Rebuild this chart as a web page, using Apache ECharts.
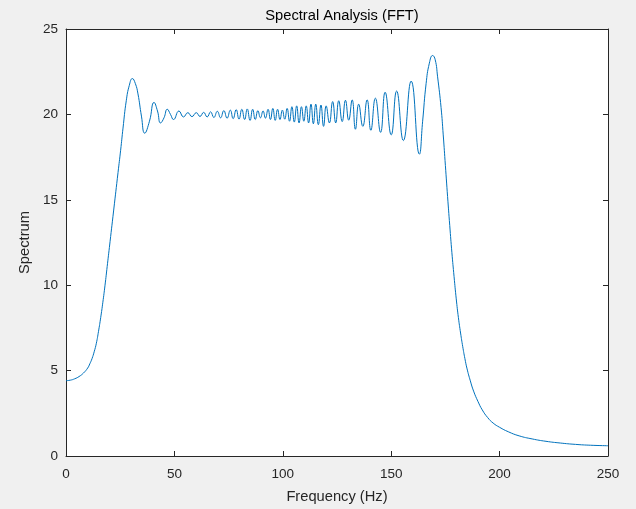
<!DOCTYPE html>
<html>
<head>
<meta charset="utf-8">
<script src="https://cdn.jsdelivr.net/npm/echarts@6/dist/echarts.min.js"></script>
<style>
  html, body { margin: 0; padding: 0; background: #f0f0f0; }
  #main { width: 636px; height: 509px; }
</style>
</head>
<body>
<div id="main"></div>
<script>
// values (frequency in Hz, spectrum magnitude)
const freqs = [
  0, 2, 4, 6, 8, 10, 11, 12, 13, 14, 15, 16, 17, 18, 19, 20, 22, 24, 25.2, 26.3, 27.8, 29.2,
  30.6, 32, 33.2, 34.8, 36.3, 38.5, 40.6, 42.2, 43.6, 45.2, 46.7, 48.2, 49.6,
  52.1, 54.2, 56.2, 58.1, 60.1, 61.8, 63.5, 65.1, 66.7, 68.2, 69.8, 71.3,
  72.8, 74.3, 75.8, 77.1, 78.5, 79.8, 81.1, 82.4, 83.6, 84.9, 86.1, 87.3,
  88.5, 89.7, 90.9, 92.0, 93.2, 94.3, 95.4, 96.5, 97.6, 98.7, 99.8, 100.9,
  102.0, 103.1, 104.2, 105.3, 106.4, 107.5, 108.6, 109.7, 110.8, 111.9,
  113.0, 114.1, 115.2, 116.4, 117.6, 118.8, 120.0, 121.5, 123.0, 124.4,
  125.8, 127.4, 128.9, 130.4, 132.0, 133.5, 135.0, 136.9, 138.9, 140.6,
  142.7, 145.1, 147.2, 150.0, 152.5, 155.6, 159.2, 163.0, 164.5, 166.1,
  167.6, 169.1, 170.3, 171.4, 173.0, 174.0, 175.0, 176.0, 177.0, 178.0,
  179.0, 180.0, 181.0, 182.0, 183.0, 184.0, 185.0, 186.5, 188.0, 190.0,
  192.0, 194.5, 197.0, 200.0, 204.0, 209.0, 215.0, 221.4, 228.0, 235.0,
  242.0, 250.0
]
const spectrum = [
  4.41, 4.44, 4.52, 4.65, 4.85, 5.15, 5.4, 5.7, 6.1, 6.6, 7.3, 8.1, 9.0, 10.0, 11.1, 12.2, 14.4, 16.6, 17.9, 19.2, 20.8, 21.7,
  22.1, 21.8, 21.2, 19.9, 18.9, 19.6, 20.7, 20.2, 19.5, 19.8, 20.3, 20.0, 19.7,
  20.2, 19.85, 20.1, 19.87, 20.1, 19.88, 20.12, 19.85, 20.15, 19.82, 20.18, 19.8,
  20.22, 19.78, 20.25, 19.75, 20.28, 19.72, 20.3, 19.7, 20.32, 19.65, 20.3, 19.7,
  20.22, 19.8, 20.2, 19.78, 20.3, 19.7, 20.35, 19.65, 20.3, 19.7, 20.25, 19.72,
  20.35, 19.6, 20.45, 19.55, 20.5, 19.5, 20.45, 19.6, 20.5, 19.5,
  20.6, 19.45, 20.6, 19.4, 20.55, 19.3, 20.5, 19.5, 20.75, 19.5,
  20.8, 19.58, 20.83, 19.66, 20.85, 19.13, 20.6, 19.3, 20.85, 19.07,
  20.95, 18.95, 21.3, 18.8, 21.37, 18.47, 21.95, 17.67, 19.6, 21.8,
  23.0, 23.45, 23.2, 22.2, 20.4, 18.8, 17.0, 15.2, 13.5, 11.9,
  10.5, 9.2, 8.1, 7.2, 6.4, 5.7, 5.1, 4.4, 3.8, 3.2,
  2.7, 2.25, 1.93, 1.68, 1.42, 1.18, 1.0, 0.86, 0.76, 0.68,
  0.63, 0.6
]
const xTicks = { min: 0, max: 250, interval: 50 }
const yTicks = { min: 0, max: 25, interval: 5 }

const chart = echarts.init(document.getElementById('main'))
const font = '"Liberation Sans", Arial, Helvetica, sans-serif'
const axisColor = '#262626'

// 框线 + 向内刻度，模仿 matlab 的 box on
const baseAxis = (t) => ({
  type: 'value',
  min: t.min,
  max: t.max,
  interval: t.interval,
  splitLine: { show: false },
  axisLine: { show: true, onZero: false, lineStyle: { color: axisColor, width: 1 } },
  axisTick: { show: true, inside: true, length: 5, lineStyle: { color: axisColor } }
})

chart.setOption({
  backgroundColor: '#f0f0f0',
  animation: false,
  title: {
    text: 'Spectral Analysis (FFT)',
    left: 337,
    textAlign: 'center',
    top: 3,
    textStyle: { fontFamily: font, fontSize: 14.7, fontWeight: 'normal', color: '#000' }
  },
  grid: {
    left: 66, right: 28, top: 29, bottom: 53,
    show: true, backgroundColor: '#fff', borderWidth: 0
  },
  xAxis: [
    Object.assign(baseAxis(xTicks), {
      position: 'bottom',
      name: 'Frequency (Hz)',
      nameLocation: 'middle',
      nameGap: 33,
      nameTextStyle: { fontFamily: font, fontSize: 14.7, color: axisColor },
      axisLabel: { fontFamily: font, fontSize: 13.5, color: axisColor, margin: 11 }
    }),
    Object.assign(baseAxis(xTicks), { position: 'top', axisLabel: { show: false } })
  ],
  yAxis: [
    Object.assign(baseAxis(yTicks), {
      position: 'left',
      name: 'Spectrum',
      nameLocation: 'middle',
      nameGap: 31,
      nameTextStyle: { fontFamily: font, fontSize: 14.7, color: axisColor },
      axisLabel: { fontFamily: font, fontSize: 13.5, color: axisColor, margin: 8 }
    }),
    Object.assign(baseAxis(yTicks), { position: 'right', axisLabel: { show: false } })
  ],
  series: [
    {
      type: 'line',
      data: freqs.map((f, i) => [f, spectrum[i]]),
      showSymbol: false,
      smooth: 0.5,
      lineStyle: { color: '#0072BD', width: 1 },
      silent: true
    }
  ]
})
</script>
</body>
</html>
